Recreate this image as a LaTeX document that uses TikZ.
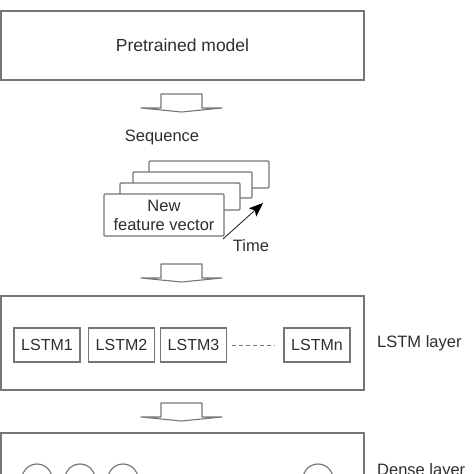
\documentclass[tikz,border=0pt]{standalone}
\usepackage{fontspec}
\setmainfont{Liberation Sans}
\usetikzlibrary{arrows.meta}
\definecolor{edgegray}{HTML}{767676}
\definecolor{textgray}{HTML}{2E2E2E}
\begin{document}
\begin{tikzpicture}[x=1pt, y=-1pt,
    layer/.style={rectangle, draw=edgegray, line width=1.2pt, minimum width=363pt, text=textgray, inner sep=0pt},
    frame/.style={rectangle, draw=edgegray, fill=white, line width=1.2pt, minimum width=120pt, rounded corners=1pt, text=textgray, inner sep=0pt, align=center, font=\fontsize{16.5}{19}\selectfont},
    cell/.style={rectangle, draw=edgegray, line width=1.2pt, minimum width=66pt, minimum height=34pt, text=textgray, inner sep=0pt, font=\fontsize{16}{19}\selectfont},
    unit/.style={circle, draw=edgegray, line width=1.2pt, minimum size=30pt, inner sep=0pt},
    label/.style={text=textgray, inner sep=0pt, font=\fontsize{16.5}{19}\selectfont},
    arrow/.style={-{Stealth[length=14pt, width=11pt, inset=3pt, color=black]}, line width=0.9pt, textgray},
    blockdown/.pic={
        \draw[edgegray, fill=white, line width=1.1pt, line join=round]
            (-20.5,0) -- (20.5,0) -- (20.5,14) -- (40.5,14) -- (0,18)
            -- (-40.5,14) -- (-20.5,14) -- cycle;
    }
]
\useasboundingbox (0,0) rectangle (474,474);
\clip (0,0) rectangle (474,474);

\node[layer, minimum height=69pt, font=\fontsize{17.5}{21}\selectfont] (pre) at (182.5, 45.5) {Pretrained model};
\pic at (181.5, 94) {blockdown};

\node[label] (seq) at (162, 137) {Sequence};
\node[frame, minimum width=120pt, minimum height=27pt] (f3) at (209, 174.5) {};
\node[frame, minimum width=119pt, minimum height=26pt] (f2) at (192.5, 185) {};
\node[frame, minimum width=120pt, minimum height=27pt] (f1) at (180, 196.5) {};
\node[frame, minimum width=120pt, minimum height=42pt] (vec) at (164, 215) {New\\feature vector};
\coordinate (t0) at (223, 239);
\coordinate (t1) at (263, 203);
\draw[arrow] (t0) -- (t1);
\node[label] (time) at (251, 246) {Time};
\pic at (181.5, 264) {blockdown};

\node[layer, minimum height=94pt] (lstm) at (182.5, 343) {};
\node[cell] (c1) at (47, 345) {LSTM1};
\node[cell] (c2) at (121.5, 345) {LSTM2};
\node[cell] (c3) at (193.5, 345) {LSTM3};
\node[cell] (cn) at (317, 345) {LSTMn};
\draw[edgegray, line width=0.9pt, dash pattern=on 4pt off 3pt, shorten <=5pt, shorten >=8pt] (c3) -- (cn);
\node[label, anchor=west] (lstmlab) at (377, 343) {LSTM layer};
\pic at (181.5, 403) {blockdown};

\node[layer, minimum height=100pt] (dense) at (182.5, 483) {};
\node[unit] (u1) at (37, 479) {};
\node[unit] (u2) at (80, 479) {};
\node[unit] (u3) at (123, 479) {};
\node[unit] (un) at (318, 479) {};
\node[label, anchor=base west] (denselab) at (377, 475.5) {Dense layer};

\end{tikzpicture}
\end{document}
